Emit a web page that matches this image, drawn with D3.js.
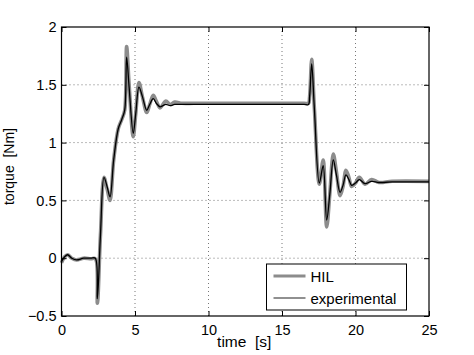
<!DOCTYPE html>
<html>
<head>
<meta charset="utf-8">
<script src="https://cdn.jsdelivr.net/npm/d3@7"></script>
<style>
  body { margin: 0; background: #fff; }
  text { font-family: "Liberation Sans", Arial, sans-serif; }
</style>
</head>
<body>
<div id="chart"></div>
<script>
// time samples [s]
const times = [0, 0.2, 0.42, 0.7, 1.03, 1.5, 2.0, 2.3, 2.44, 2.65, 2.89, 3.1, 3.3, 3.55, 3.86, 4.1, 4.3, 4.43, 4.6, 4.88, 5.05, 5.27, 5.5, 5.8, 6.0, 6.24, 6.45, 6.7, 6.9, 7.1, 7.4, 7.7, 8.2, 9, 11, 13, 15, 16.5, 16.8, 16.88, 17.02, 17.2, 17.54, 17.8, 18.04, 18.25, 18.49, 18.7, 18.95, 19.15, 19.35, 19.55, 19.74, 20.0, 20.26, 20.65, 21.1, 21.6, 22.5, 25];

// torque [Nm]
const hilTorque = [-0.04, 0.01, 0.03, 0.0, -0.015, 0.0, -0.005, -0.005, -0.39, 0.2, 0.70, 0.6, 0.5, 0.85, 1.12, 1.2, 1.28, 1.83, 1.5, 1.05, 1.25, 1.52, 1.4, 1.26, 1.33, 1.41, 1.36, 1.30, 1.33, 1.36, 1.33, 1.35, 1.34, 1.34, 1.34, 1.34, 1.34, 1.34, 1.34, 1.4, 1.72, 1.3, 0.64, 0.85, 0.27, 0.55, 0.90, 0.75, 0.54, 0.62, 0.76, 0.70, 0.62, 0.65, 0.70, 0.64, 0.68, 0.655, 0.665, 0.665];
const expTorque = [-0.03, 0.01, 0.03, 0.0, -0.015, 0.0, 0.0, 0.0, -0.35, 0.2, 0.70, 0.62, 0.53, 0.85, 1.12, 1.2, 1.28, 1.74, 1.48, 1.08, 1.25, 1.48, 1.4, 1.28, 1.33, 1.38, 1.34, 1.31, 1.32, 1.33, 1.32, 1.33, 1.33, 1.33, 1.33, 1.33, 1.33, 1.33, 1.33, 1.4, 1.68, 1.3, 0.65, 0.80, 0.33, 0.55, 0.85, 0.72, 0.57, 0.63, 0.72, 0.68, 0.63, 0.65, 0.68, 0.645, 0.665, 0.655, 0.66, 0.66];

const xTicks = [0, 5, 10, 15, 20, 25];
const yTicks = [-0.5, 0, 0.5, 1, 1.5, 2];
const legendLabels = ["HIL", "experimental"];

const W = 474, H = 355;
const margin = { top: 27, right: 45, bottom: 39, left: 61.5 };
const width = W - margin.left - margin.right;
const height = H - margin.top - margin.bottom;

const svg = d3.select("#chart").append("svg")
  .attr("width", W)
  .attr("height", H);

const g = svg.append("g")
  .attr("transform", `translate(${margin.left},${margin.top})`);

const x = d3.scaleLinear().domain([0, 25]).range([0, width]);
const y = d3.scaleLinear().domain([-0.5, 2]).range([height, 0]);

// dotted grid
g.append("g").selectAll("line")
  .data(xTicks.slice(1, -1)).join("line")
  .attr("x1", d => x(d)).attr("x2", d => x(d))
  .attr("y1", 0).attr("y2", height)
  .attr("stroke", "#777").attr("stroke-width", 1)
  .attr("stroke-dasharray", "1,3");
g.append("g").selectAll("line")
  .data(yTicks.slice(1, -1)).join("line")
  .attr("y1", d => y(d)).attr("y2", d => y(d))
  .attr("x1", 0).attr("x2", width)
  .attr("stroke", "#777").attr("stroke-width", 1)
  .attr("stroke-dasharray", "1,3");

// series
const line = d3.line()
  .x((d, i) => x(times[i]))
  .y(d => y(d))
  .curve(d3.curveCatmullRom.alpha(0.5));

g.append("path")
  .datum(hilTorque)
  .attr("fill", "none")
  .attr("stroke", "#8c8c8c")
  .attr("stroke-width", 3.6)
  .attr("stroke-linejoin", "round")
  .attr("d", line);

g.append("path")
  .datum(expTorque)
  .attr("fill", "none")
  .attr("stroke", "#000")
  .attr("stroke-width", 1.3)
  .attr("stroke-linejoin", "round")
  .attr("d", line);

// axes (MATLAB style: inward ticks on all sides)
const xAxis = d3.axisBottom(x).tickValues(xTicks).tickSizeInner(-5).tickSizeOuter(0).tickPadding(9);
const yAxis = d3.axisLeft(y).tickValues(yTicks).tickSizeInner(-5).tickSizeOuter(0).tickPadding(9)
  .tickFormat(d => d < 0 ? "\u2212" + Math.abs(d) : d);

const gx = g.append("g").attr("transform", `translate(0,${height})`).call(xAxis);
const gy = g.append("g").call(yAxis);
const gxt = g.append("g").call(d3.axisTop(x).tickValues(xTicks).tickSizeInner(-5).tickSizeOuter(0).tickFormat(""));
const gyr = g.append("g").attr("transform", `translate(${width},0)`)
  .call(d3.axisRight(y).tickValues(yTicks).tickSizeInner(-5).tickSizeOuter(0).tickFormat(""));

[gx, gy, gxt, gyr].forEach(a => {
  a.select(".domain").remove();
  a.selectAll("line").attr("stroke", "#000");
  a.selectAll("text").attr("font-size", 14.5).attr("fill", "#000")
    .style("font-family", "'Liberation Sans', Arial, sans-serif");
});
gy.selectAll("text").attr("dx", 4);

g.append("rect")
  .attr("width", width).attr("height", height)
  .attr("fill", "none").attr("stroke", "#000").attr("stroke-width", 1.2);

// axis labels
svg.append("text")
  .attr("x", margin.left + width / 2 - 1)
  .attr("y", 347)
  .attr("text-anchor", "middle")
  .attr("font-size", 15.5)
  .attr("xml:space", "preserve")
  .text("time  [s]");

svg.append("text")
  .attr("transform", `translate(14,${margin.top + height / 2 - 5}) rotate(-90)`)
  .attr("text-anchor", "middle")
  .attr("font-size", 14)
  .attr("xml:space", "preserve")
  .text("torque  [Nm]");

// legend
const leg = svg.append("g").attr("transform", "translate(266.5,264)");
leg.append("rect")
  .attr("width", 140).attr("height", 46)
  .attr("fill", "#fff").attr("stroke", "#000").attr("stroke-width", 1);
const legStyles = [{ c: "#8c8c8c", w: 3 }, { c: "#222", w: 1.2 }];
legendLabels.forEach((lab, i) => {
  leg.append("line")
    .attr("x1", 7).attr("x2", 39)
    .attr("y1", 12 + i * 22).attr("y2", 12 + i * 22)
    .attr("stroke", legStyles[i].c).attr("stroke-width", legStyles[i].w);
  leg.append("text")
    .attr("x", 44).attr("y", 17.5 + i * 22)
    .attr("font-size", 15)
    .text(lab);
});
</script>
</body>
</html>
